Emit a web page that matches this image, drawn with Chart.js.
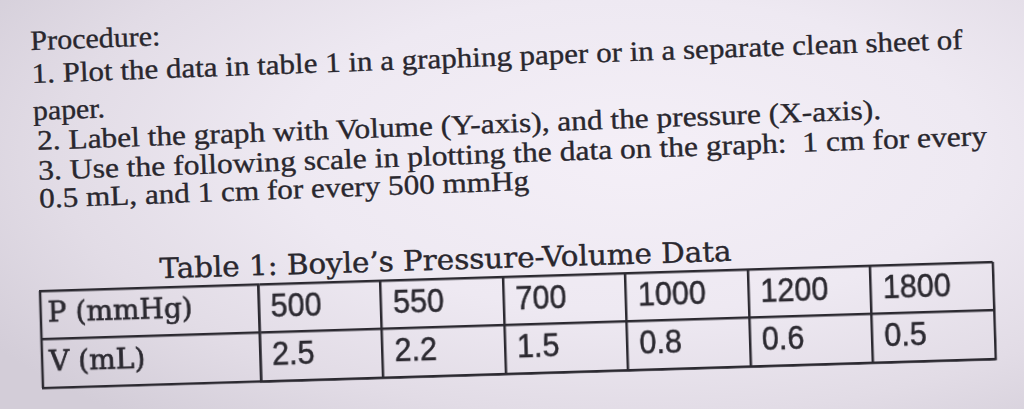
<!DOCTYPE html>
<html lang="en">
<head>
    <title>Boyle's Pressure-Volume Data</title>
    <meta charset="UTF-8">
    <meta name="viewport" content="width=device-width, initial-scale=1.0">
    <script src="https://cdn.jsdelivr.net/npm/chart.js"></script>
    <style>
        html, body {
            margin: 0;
            width: 1024px;
            height: 409px;
            overflow: hidden;
        }
        body {
            position: relative;
            background: radial-gradient(ellipse 75% 85% at 62% 38%, #f4eff7 0%, #eee9f2 45%, #e2dce6 75%, #d3cdd8 100%);
            color: #29272e;
        }
        .sheet {
            position: absolute;
            left: 0;
            top: 0;
            width: 1024px;
            height: 409px;
        }
        #proc {
            transform-origin: 32px 83px;
            transform: rotate(-2.1deg);
            font-family: "Liberation Serif", "Times New Roman", serif;
            font-size: 28px;
            -webkit-text-stroke: 0.35px #29272e;
        }
        #proc div, #title {
            position: absolute;
            line-height: 1;
            white-space: pre;
            transform-origin: 0 0;
        }
        #tbl {
            transform-origin: 39px 290px;
            transform: rotate(-1.75deg);
        }
        #title {
            font-family: "DejaVu Serif", serif;
            font-size: 28px;
            -webkit-text-stroke: 0.4px #29272e;
        }
        #box {
            position: absolute;
            left: 37px;
            top: 289px;
            width: 958px;
            height: 101px;
        }
    </style>
</head>
<body>
    <div class="sheet" id="proc">
        <div style="left:32px; top:27px" data-w="131">Procedure:</div>
        <div style="left:32px; top:60px" data-w="932">1. Plot the data in table 1 in a graphing paper or in a separate clean sheet of</div>
        <div style="left:32px; top:97px" data-w="73">paper.</div>
        <div style="left:35px; top:127px" data-w="845">2. Label the graph with Volume (Y-axis), and the pressure (X-axis).</div>
        <div style="left:35px; top:157px" data-w="950">3. Use the following scale in plotting the data on the graph:  1 cm for every</div>
        <div style="left:35px; top:185px" data-w="491">0.5 mL, and 1 cm for every 500 mmHg</div>
    </div>
    <div class="sheet" id="tbl">
        <div id="title" style="left:160px; top:259px" data-w="573">Table 1: Boyle’s Pressure-Volume Data</div>
        <div id="box"><canvas id="chart"></canvas></div>
    </div>
    <script>
        // Dados da tabela 1
        var rowLabels = ['P (mmHg)', 'V (mL)'];
        var pressure = [500, 550, 700, 1000, 1200, 1800];
        var volume = [2.5, 2.2, 1.5, 0.8, 0.6, 0.5];
        var volumeText = ['2.5', '2.2', '1.5', '0.8', '0.6', '0.5'];

        // ajusta a largura das linhas de texto
        document.querySelectorAll('[data-w]').forEach(function (el) {
            var w = el.getBoundingClientRect().width;
            var s = parseFloat(el.dataset.w) / w;
            el.style.transform = 'scaleX(' + s + ')';
        });

        var ink = '#2b2930';

        function heavyText(ctx, txt, x, y, sx) {
            ctx.save();
            ctx.translate(x, y);
            ctx.scale(sx, 1);
            ctx.fillText(txt, 0, 0);
            ctx.strokeText(txt, 0, 0);
            ctx.restore();
        }

        // desenha as celulas da tabela usando as escalas
        var cellText = {
            id: 'cellText',
            afterDraw: function (chart) {
                var ctx = chart.ctx;
                var xs = chart.scales.x;
                var ys = chart.scales.y;
                var colW = xs.width / pressure.length;
                var rowH = ys.height / rowLabels.length;
                ctx.save();
                ctx.fillStyle = ink;
                ctx.textBaseline = 'alphabetic';
                ctx.textAlign = 'left';

                // borda esquerda
                ctx.strokeStyle = ink;
                ctx.lineWidth = 2.5;
                ctx.beginPath();
                ctx.moveTo(ys.left + 1, chart.chartArea.top);
                ctx.lineTo(ys.left + 1, chart.chartArea.bottom);
                ctx.stroke();

                ctx.lineWidth = 0.7;
                ctx.font = '28px "DejaVu Serif", serif';
                rowLabels.forEach(function (lab, r) {
                    var top = ys.getPixelForValue(r) - rowH / 2;
                    heavyText(ctx, lab, ys.left + 8, top + 31, 1);
                });

                ctx.lineWidth = 0.5;
                ctx.font = '34px "Liberation Sans", Arial, sans-serif';
                pressure.forEach(function (p, i) {
                    var left = xs.getPixelForValue(i) - colW / 2;
                    var top0 = ys.getPixelForValue(0) - rowH / 2;
                    var top1 = ys.getPixelForValue(1) - rowH / 2;
                    heavyText(ctx, String(p), left + 12, top0 + 33, 0.9);
                    heavyText(ctx, volumeText[i], left + 12, top1 + 32, 0.9);
                });
                ctx.restore();
            }
        };

        var ctx = document.getElementById('chart').getContext('2d');
        var chart = new Chart(ctx, {
            type: 'bar',
            data: {
                labels: pressure.map(String),
                datasets: [{
                    label: 'V (mL)',
                    data: volume,
                    backgroundColor: 'rgba(0,0,0,0)',
                    borderWidth: 0
                }]
            },
            options: {
                responsive: true,
                maintainAspectRatio: false,
                animation: false,
                layout: { padding: { top: 2, bottom: 2, left: 2, right: 2 } },
                plugins: {
                    legend: { display: false },
                    tooltip: { enabled: false }
                },
                scales: {
                    x: {
                        type: 'category',
                        offset: true,
                        grid: { offset: true, color: ink, lineWidth: 2.5, drawTicks: false },
                        border: { display: true, color: ink, width: 2.5 },
                        ticks: { display: false }
                    },
                    y: {
                        type: 'category',
                        labels: rowLabels,
                        offset: true,
                        grid: { offset: true, color: ink, lineWidth: 2.5, drawTicks: true, tickLength: 219, tickColor: ink },
                        border: { display: true, color: ink, width: 2.5 },
                        ticks: { display: false }
                    }
                }
            },
            plugins: [cellText]
        });
    </script>
</body>
</html>
